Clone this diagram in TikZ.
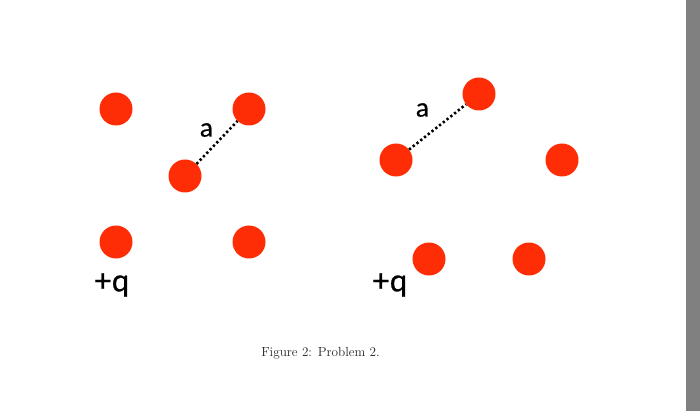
\documentclass[tikz,border=0pt]{standalone}
\usepackage{fontspec}
\newfontfamily\labelfont[RawFeature={embolden=0.5}]{Lato}
\tikzset{
  charge/.style={circle,fill=chargered,draw=none,minimum size=33pt,inner sep=0pt},
  bondline/.style={line width=2.6pt,black,dash pattern=on 2.3pt off 2.5pt},
  biglabel/.style={font=\labelfont\fontsize{26}{26}\selectfont,inner sep=0pt,text=black},
  qlabel/.style={font=\labelfont\fontsize{31}{31}\selectfont,inner sep=0pt,text=black},
  captiontext/.style={font=\fontsize{13.2}{15}\selectfont,inner sep=0pt,text=black!85}
}
\definecolor{chargered}{RGB}{255,45,5}
\begin{document}
\begin{tikzpicture}[x=1pt,y=-1pt]
\useasboundingbox (0,0) rectangle (700,411);
\fill[white] (0,0) rectangle (700,411);
\fill[black!50] (686,0) rectangle (700,411);
\node[charge] (l1) at (116,109) {};
\node[charge] (l2) at (249,109) {};
\node[charge] (l3) at (185,176) {};
\node[charge] (l4) at (116,242) {};
\node[charge] (l5) at (249,242) {};
\draw[bondline] (l3) -- (l2);
\node[biglabel] (la) at (206.5,130) {a};
\node[qlabel] (lq) at (111.5,285) {+q};
\node[charge] (r1) at (396,160) {};
\node[charge] (r2) at (479,94) {};
\node[charge] (r3) at (562,160) {};
\node[charge] (r4) at (429,259) {};
\node[charge] (r5) at (529,259) {};
\draw[bondline] (r1) -- (r2);
\node[biglabel] (ra) at (422.5,110) {a};
\node[qlabel] (rq) at (389.5,285) {+q};
\node[captiontext] (cap) at (320.5,353.5) {Figure 2: Problem 2.};
\end{tikzpicture}
\end{document}
